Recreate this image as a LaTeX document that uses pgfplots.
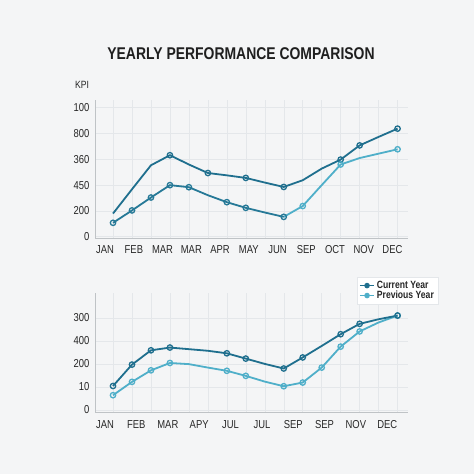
\documentclass[border=0pt]{standalone}
\usepackage{pgfplots}
\pgfplotsset{compat=1.18}
\usepackage{fontspec}
\setmainfont{Liberation Sans}[FakeStretch=0.82]
\definecolor{cur}{HTML}{1F6F8E}
\definecolor{prev}{HTML}{4FAFC9}
\definecolor{bg}{HTML}{F4F5F6}
\definecolor{gridc}{HTML}{E4E7EA}
\definecolor{axc}{HTML}{BFC3C6}

\pgfplotsset{
  kpi/.style={
    scale only axis, width=313pt,
    xmin=-0.95, xmax=15.55,
    axis lines=left, axis line style={axc, line width=0.9pt, -},
    major tick length=0pt, minor tick length=0pt,
    minor xtick={0,...,15},
    xminorgrids=true, ymajorgrids=true,
    minor grid style={gridc, line width=0.5pt},
    major grid style={gridc, line width=0.5pt},
    tick label style={font=\fontsize{11.5}{11.5}\selectfont, text=black!85},
    /pgf/number format/assume math mode=true,
    xticklabel style={yshift=-4pt},
    yticklabel style={xshift=-2pt},
    every axis plot/.append style={line width=1.8pt},
  },
  openmark/.style={mark=o, mark size=2.7pt, mark options={fill=white, line width=1.3pt}},
}

\begin{document}
\begin{tikzpicture}
\fill[bg] (0pt,0pt) rectangle (474pt,474pt);

\node[font=\bfseries\fontsize{17}{17}\selectfont, text=black!88] at (241pt,420pt) {YEARLY PERFORMANCE COMPARISON};
\node[font=\fontsize{10.5}{10.5}\selectfont, text=black!85] at (82pt,389pt) {KPI};

% upper panel
\begin{axis}[kpi, at={(95pt,235.7pt)}, anchor=south west, height=138.3pt,
  ymin=-0.06, ymax=5.3,
  ytick={0,1,2,3,4,5}, yticklabels={0,200,450,360,800,100},
  xtick={-0.42,1.10,2.61,4.13,5.64,7.16,8.67,10.19,11.70,13.22,14.73},
  xticklabels={JAN,FEB,MAR,MAR,APR,MAY,JUN,SEP,OCT,NOV,DEC}]
\addplot[cur, openmark, mark indices={4,6,8,10,13,14,16}] coordinates {
  (0,0.90) (1,1.84) (2,2.77) (3,3.16) (4,2.80) (5,2.47) (6,2.38) (7,2.28)
  (8,2.10) (9,1.93) (10,2.19) (11,2.64) (12,2.99) (13,3.54) (14,3.87) (15,4.19)};
\addplot[prev, openmark, mark indices={2,4,7}] coordinates {
  (9,0.77) (10,1.19) (11,2.00) (12,2.80) (13,3.05) (14,3.22) (15,3.39)};
\addplot[cur!85!prev, openmark, mark indices={1,2,3,4,5,7,8,10}] coordinates {
  (0,0.54) (1,1.02) (2,1.52) (3,2.00) (4,1.92) (5,1.61) (6,1.34) (7,1.12)
  (8,0.94) (9,0.77)};
\end{axis}

% lower panel
\begin{axis}[kpi, at={(95pt,61.3pt)}, anchor=south west, height=119.7pt,
  ymin=-0.12, ymax=5.08,
  ytick={0,1,2,3,4}, yticklabels={0,10,200,400,300},
  xtick={-0.42,1.23,2.89,4.54,6.19,7.85,9.50,11.15,12.80,14.46},
  xticklabels={JAN,FEB,MAR,APY,JUL,JUL,SEP,SEP,NOV,DEC},
  legend style={at={(0.837,1.134)}, anchor=north west, draw=gridc, fill=white,
    font=\bfseries\fontsize{10.5}{10.5}\selectfont, text=black!85, inner sep=2pt, row sep=-3pt,
    legend cell align=left},
  legend image code/.code={
    \draw[mark repeat=2, mark phase=2, #1] plot coordinates {(0cm,0cm) (0.25cm,0cm) (0.5cm,0cm)};}]
\addplot[prev, openmark, forget plot, mark indices={1,2,3,4,7,8,10,11,12,13,14,16}] coordinates {
  (0,0.64) (1,1.22) (2,1.72) (3,2.04) (4,1.99) (5,1.84) (6,1.70) (7,1.48)
  (8,1.23) (9,1.03) (10,1.19) (11,1.84) (12,2.75) (13,3.41) (14,3.80) (15,4.10)};
\addplot[cur, openmark, forget plot, mark indices={1,2,3,4,7,8,10,11,13,14,16}] coordinates {
  (0,1.04) (1,1.97) (2,2.59) (3,2.71) (4,2.64) (5,2.57) (6,2.46) (7,2.23)
  (8,2.00) (9,1.80) (10,2.28) (11,2.78) (12,3.29) (13,3.74) (14,3.94) (15,4.10)};
\addlegendimage{cur, mark=*, mark size=2pt, line width=1.5pt}
\addlegendentry{Current Year}
\addlegendimage{prev, mark=*, mark size=2pt, line width=1.5pt}
\addlegendentry{Previous Year}
\end{axis}
\end{tikzpicture}
\end{document}
